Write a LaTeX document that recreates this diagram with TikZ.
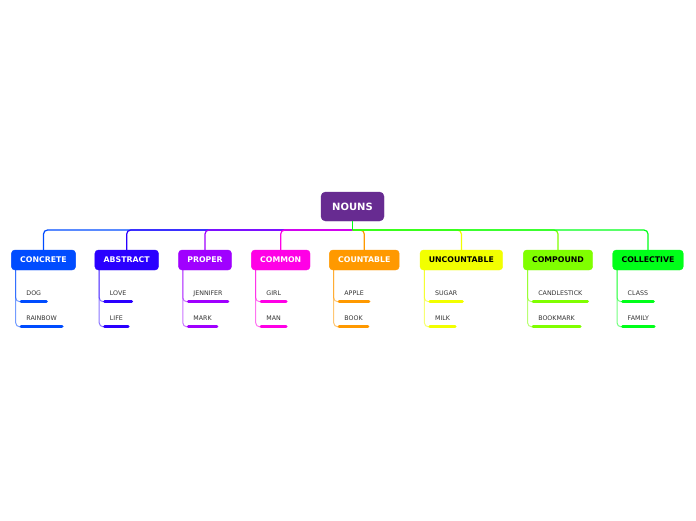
\documentclass[tikz,border=0pt]{standalone}
\usepackage{fontspec}
\setmainfont{DejaVu Sans}
\definecolor{cRoot}{RGB}{103,43,145}
\definecolor{cA}{RGB}{0,76,255}
\definecolor{cB}{RGB}{42,0,255}
\definecolor{cC}{RGB}{160,0,255}
\definecolor{cD}{RGB}{255,0,230}
\definecolor{cE}{RGB}{255,153,0}
\definecolor{cF}{RGB}{242,255,0}
\definecolor{cG}{RGB}{128,255,0}
\definecolor{cH}{RGB}{0,255,25}
\definecolor{leaftext}{RGB}{51,51,51}
\begin{document}
\begin{tikzpicture}[x=1pt,y=-1pt,
  cat/.style={rounded corners=3.5pt, fill=#1, draw=#1, minimum height=20pt,
    inner xsep=8.8pt, inner ysep=0pt, font=\fontsize{7.8}{9}\selectfont\bfseries, text=white},
  dark/.style={text=black},
  rootbox/.style={rounded corners=4.5pt, fill=cRoot, draw=cRoot, minimum height=29pt,
    minimum width=63pt, inner xsep=11pt, font=\fontsize{10}{12}\selectfont\bfseries, text=white},
  leaf/.style={anchor=west, inner xsep=5pt, inner ysep=5.7pt, text height=4.6pt,
    text depth=0pt, font=\fontsize{6.3}{7}\selectfont, text=leaftext},
  uline/.style={draw=#1, line width=3pt, line cap=round},
  lconn/.style={draw=#1, draw opacity=0.55, line width=1pt, rounded corners=4pt},
  tconn/.style={draw=#1, line width=1.2pt, rounded corners=4pt}
]
\useasboundingbox[fill=white] (0,0) rectangle (696,520);

\node[rootbox] (root) at (352.5,206.5) {NOUNS};
\coordinate (hub) at (352.5,230);

\node[cat=cA] (c1) at (43.5,260) {CONCRETE};
\node[cat=cB] (c2) at (126.7,260) {ABSTRACT};
\node[cat=cC] (c3) at (205,260) {PROPER};
\node[cat=cD] (c4) at (280.7,260) {COMMON};
\node[cat=cE] (c5) at (364.3,260) {COUNTABLE};
\node[cat=cF,dark] (c6) at (461.4,260) {UNCOUNTABLE};
\node[cat=cG,dark] (c7) at (558,260) {COMPOUND};
\node[cat=cH,dark] (c8) at (648,260) {COLLECTIVE};

% top connectors
\draw[tconn=cA] (hub) -| (c1.north);
\draw[tconn=cB] (hub) -| (c2.north);
\draw[tconn=cC] (hub) -| (c3.north);
\draw[tconn=cD] (hub) -| (c4.north);
\draw[tconn=cE] (hub) -| (c5.north);
\draw[tconn=cF] (hub) -| (c6.north);
\draw[tconn=cG] (hub) -| (c7.north);
\draw[tconn=cH] (hub) -| (c8.north);
\draw[tconn=cH] (root.south) -- (hub);

% leaves
\foreach \c/\col/\a/\b in {c1/cA/DOG/RAINBOW, c2/cB/LOVE/LIFE, c3/cC/JENNIFER/MARK,
  c4/cD/GIRL/MAN, c5/cE/APPLE/BOOK, c6/cF/SUGAR/MILK, c7/cG/CANDLESTICK/BOOKMARK,
  c8/cH/CLASS/FAMILY}{
  \node[leaf] (\c a) at ([shift={(10,23.3)}]\c.south west) {\a};
  \node[leaf] (\c b) at ([shift={(10,48.4)}]\c.south west) {\b};
  \draw[lconn=\col] ([xshift=4.5pt]\c.south west) |- (\c a.south west);
  \draw[lconn=\col] ([xshift=4.5pt]\c.south west) |- (\c b.south west);
  \draw[uline=\col] (\c a.south west) -- (\c a.south east);
  \draw[uline=\col] (\c b.south west) -- (\c b.south east);
}
\end{tikzpicture}
\end{document}
